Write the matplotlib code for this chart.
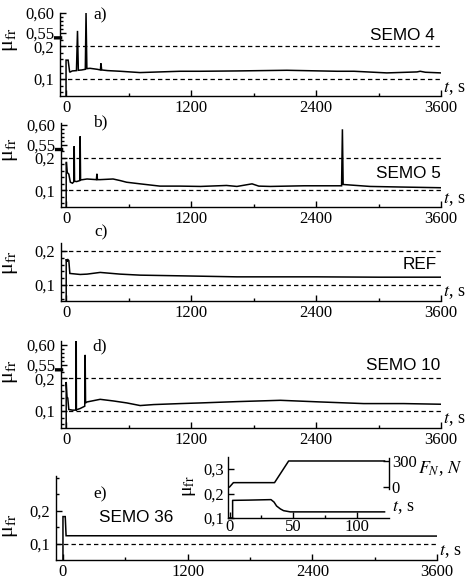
import numpy as np
import matplotlib.pyplot as plt
from matplotlib.ticker import FixedLocator, FixedFormatter

plt.rcParams['font.family'] = 'Liberation Serif'
plt.rcParams['mathtext.fontset'] = 'stix'
plt.rcParams['axes.linewidth'] = 1.0

# ---- data ----
t_a = [0, 0, 20, 35, 60, 100, 110, 118, 150, 185, 192, 200, 230, 300, 330, 335, 342, 400, 520, 710,
       900, 1095, 1290, 1640, 2120, 2600, 2765, 3080, 3370, 3400, 3450, 3600]
mu_a = [0.0, 0.158, 0.158, 0.121, 0.125, 0.126, 0.555, 0.127, 0.128, 0.130, 0.60, 0.132, 0.133, 0.130,
        0.128, 0.148, 0.128, 0.126, 0.124, 0.120, 0.122, 0.124, 0.124, 0.125, 0.127, 0.124, 0.124,
        0.119, 0.122, 0.124, 0.121, 0.119]

t_b = [0, 0, 3, 10, 25, 40, 60, 75, 77, 80, 100, 130, 134, 138, 200, 290, 295, 300, 325, 450, 520,
       580, 710, 900, 1095, 1290, 1540, 1640, 1785, 1850, 1960, 2285, 2645, 2653, 2660, 2918, 3245, 3600]
mu_b = [0.0, 0.186, 0.186, 0.155, 0.150, 0.125, 0.122, 0.127, 0.546, 0.128, 0.127, 0.130, 0.571,
        0.132, 0.135, 0.133, 0.151, 0.133, 0.133, 0.135, 0.130, 0.125, 0.120, 0.113, 0.113, 0.112,
        0.115, 0.112, 0.120, 0.113, 0.112, 0.114, 0.114, 0.589, 0.118, 0.112, 0.110, 0.108]

t_c = [0, 0, 8, 12, 25, 35, 134, 200, 326, 518, 710, 1095, 1640, 2400, 3000, 3600]
mu_c = [0.0, 0.176, 0.168, 0.176, 0.172, 0.134, 0.131, 0.132, 0.137, 0.132, 0.129, 0.127, 0.124,
        0.124, 0.123, 0.123]

t_d = [0, 0, 8, 15, 25, 60, 94, 96, 98, 134, 178, 182, 186, 200, 326, 454, 582, 710, 840, 1095,
       1290, 1640, 2057, 2441, 2857, 3241, 3600]
mu_d = [0.0, 0.189, 0.143, 0.140, 0.105, 0.103, 0.103, 0.65, 0.104, 0.108, 0.115, 0.575, 0.125,
        0.128, 0.136, 0.131, 0.125, 0.117, 0.120, 0.123, 0.125, 0.129, 0.133, 0.128, 0.123, 0.123, 0.121]

t_e = [0, 0, 22, 30, 3600]
mu_e = [0.0, 0.183, 0.183, 0.125, 0.124]

# inset of panel e: first two minutes
t_in = [0, 2.4, 2.4, 15, 32.6, 35, 37, 40, 42.5, 47.8, 122]
mu_in = [0.1, 0.1, 0.172, 0.173, 0.175, 0.165, 0.149, 0.137, 0.130, 0.125, 0.125]
t_fn = [0, 3, 35.4, 46.5, 122]
fn = [0, 50, 50, 300, 300]

names = ['SEMO 4', 'SEMO 5', 'REF', 'SEMO 10', 'SEMO 36']
letters = ['a)', 'b)', 'c)', 'd)', 'e)']
x_major = [0, 1200, 2400, 3600]
x_minor = [600, 1800, 3000]
y_broken = [0.1, 0.2, 0.55, 0.60]
y_broken_lab = ['0,1', '0,2', '0,55', '0,60']
y_plain = [0.1, 0.2]
y_plain_lab = ['0,1', '0,2']

W, H = 474, 579
fig = plt.figure(figsize=(W / 100, H / 100), dpi=100)


def box(l, r, t, b):
    return [l / W, 1 - b / H, (r - l) / W, (b - t) / H]


def px(x, y):
    return x / W, 1 - y / H


LO, HI, K, EPS = 0.226, 0.54, 1.212, 0.01
GAP = LO + (HI - LO) * EPS


def fwd(v):
    v = np.asarray(v, float)
    return np.where(v <= LO, v, np.where(v < HI, LO + (v - LO) * EPS, GAP + (v - HI) * K))


def inv(u):
    u = np.asarray(u, float)
    return np.where(u <= LO, u, np.where(u < GAP, LO + (u - LO) / EPS, HI + (u - GAP) / K))


def style(ax):
    for s in ['top', 'right']:
        ax.spines[s].set_visible(False)
    ax.tick_params(which='both', direction='in', width=1.0, labelsize=12)
    ax.tick_params(which='major', length=4)
    ax.tick_params(which='minor', length=2.3)


panels = [
    (box(60, 441, 13, 96), t_a, mu_a, (0.0485, 0.60), True, (-58, 3600)),
    (box(61, 441, 123, 207), t_b, mu_b, (0.0485, 0.605), True, (-50, 3600)),
    (box(61, 441, 243, 301), t_c, mu_c, (0.053, 0.2235), False, (-50, 3600)),
    (box(61, 441, 341, 428), t_d, mu_d, (0.0485, 0.61), True, (-50, 3600)),
    (box(56, 437, 476, 560), t_e, mu_e, (0.0515, 0.306), False, (-67, 3600)),
]
name_pos = [(402, 36), (408, 173), (420, 265), (403, 365), (136, 517)]
letter_pos = [(100, 15), (100, 122), (101, 232), (100, 346), (100, 494)]
ylab_y = [40, 150, 263, 372, 526]

axes = []
for i, (rect, t, mu, ylim, brk, xlim) in enumerate(panels):
    ax = fig.add_axes(rect)
    style(ax)
    if brk:
        ax.set_yscale('function', functions=(fwd, inv))
    ax.plot(t, mu, color='black', lw=1.1, solid_joinstyle='miter')
    if i != 4:
        ax.axhline(0.2, color='black', lw=0.9, ls=(0, (3.5, 2.5)))
    ax.axhline(0.1, color='black', lw=0.9, ls=(0, (3.5, 2.5)))
    ax.set_xlim(*xlim)
    ax.set_ylim(*ylim)
    ax.xaxis.set_major_locator(FixedLocator(x_major))
    ax.xaxis.set_minor_locator(FixedLocator(x_minor))
    ax.set_xticklabels([str(v) for v in x_major])
    if brk:
        ax.yaxis.set_major_locator(FixedLocator(y_broken))
        ax.yaxis.set_major_formatter(FixedFormatter(y_broken_lab))
        ax.yaxis.set_minor_locator(FixedLocator([0.06, 0.08, 0.12, 0.14, 0.16, 0.18, 0.22,
                                                 0.56, 0.57, 0.58, 0.59]))
        ax.plot([-0.016, 0.006], [LO + 0.002, LO + 0.004], transform=ax.get_yaxis_transform(),
                color='black', lw=2.4, clip_on=False, solid_capstyle='butt')
    else:
        ax.yaxis.set_major_locator(FixedLocator(y_plain))
        ax.yaxis.set_major_formatter(FixedFormatter(y_plain_lab))
        if i == 2:
            ax.yaxis.set_minor_locator(FixedLocator([0.06, 0.08, 0.12, 0.14, 0.16, 0.18]))
        else:
            ax.yaxis.set_minor_locator(FixedLocator([0.15, 0.25, 0.3]))
    ax.tick_params(axis='y', pad=4)
    ax.tick_params(axis='x', pad=3)
    fig.text(*px(10, ylab_y[i]), 'μ$_{\\rm fr}$', fontsize=16, rotation=90,
             ha='center', va='center')
    fig.text(*px(*name_pos[i]), names[i], family='Liberation Sans', fontsize=12.3,
             ha='center', va='center')
    fig.text(*px(*letter_pos[i]), letters[i], fontsize=12.5, ha='center', va='center')
    right = rect[0] * W + rect[2] * W
    bottom = (1 - rect[1]) * H
    fig.text(*px(right + 2, bottom - 8), '$t$, s', fontsize=13, ha='left', va='center')
    axes.append(ax)

# inset in panel e
ins = fig.add_axes(box(228.3, 389, 457, 518))
ins.patch.set_alpha(0)
style(ins)
ins.plot(t_in, mu_in, color='black', lw=1.1)
ins.set_xlim(-1, 125.5)
ins.set_ylim(0.1, 0.349)
ins.xaxis.set_major_locator(FixedLocator([0, 50, 100]))
ins.xaxis.set_minor_locator(FixedLocator([25, 75]))
ins.set_xticklabels(['0', '50', '100'])
ins.yaxis.set_major_locator(FixedLocator([0.1, 0.2, 0.3]))
ins.yaxis.set_major_formatter(FixedFormatter(['0,1', '0,2', '0,3']))
ins.tick_params(axis='y', pad=3)
ins.tick_params(axis='x', pad=1)
fig.text(*px(189, 486), 'μ$_{\\rm fr}$', fontsize=14, rotation=90, ha='center', va='center')

tw = ins.twinx()
tw.patch.set_alpha(0)
for s in ['top', 'left', 'bottom']:
    tw.spines[s].set_visible(False)
tw.plot(t_fn, fn, color='black', lw=1.1)
tw.set_ylim(-358, 346)
tw.spines['right'].set_bounds(-20, 340)
tw.yaxis.set_major_locator(FixedLocator([0, 300]))
tw.set_yticklabels(['0', '300'])
tw.tick_params(axis='y', direction='in', length=4, width=1.0, labelsize=12, pad=2)
fig.text(*px(392, 508), '$t$, s', fontsize=13, ha='left', va='center')
fig.text(*px(418, 469), '$F_N$, $N$', fontsize=13, ha='left', va='center')

fig.savefig('out.png', dpi=100)
